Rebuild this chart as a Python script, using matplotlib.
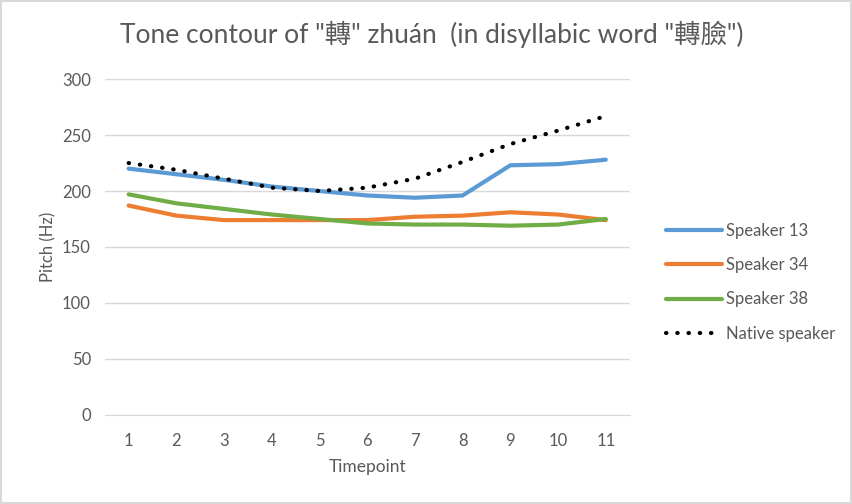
import matplotlib.pyplot as plt

# Data
timepoints = [1, 2, 3, 4, 5, 6, 7, 8, 9, 10, 11]
speaker13 = [220, 215, 210, 204, 200, 196, 194, 196, 223, 224, 228]
speaker34 = [187, 178, 174, 174, 174, 174, 177, 178, 181, 179, 174]
speaker38 = [197, 189, 184, 179, 175, 171, 170, 170, 169, 170, 175]
native = [225, 219, 211, 203, 200, 203, 211, 226, 242, 254, 267]

plt.rcParams['font.family'] = ['Lato', 'Noto Sans CJK TC', 'DejaVu Sans']
grey = "#595959"

fig = plt.figure(figsize=(8.52, 5.04), dpi=100)
ax = fig.add_axes([0.123, 0.177, 0.616, 0.666])

ax.plot(timepoints, speaker13, color="#5b9bd5", lw=3, label="Speaker 13", solid_capstyle="round")
ax.plot(timepoints, speaker34, color="#ed7d31", lw=3, label="Speaker 34", solid_capstyle="round")
ax.plot(timepoints, speaker38, color="#70ad47", lw=3, label="Speaker 38", solid_capstyle="round")
ax.plot(timepoints, native, color="black", lw=3, ls=(0, (0.1, 2.6)), dash_capstyle="round",
        label="Native speaker")

ax.set_xlim(0.5, 11.5)
ax.set_ylim(0, 300)
ax.set_xticks(timepoints)
ax.set_yticks(range(0, 301, 50))
ax.grid(axis="y", color="#d9d9d9", lw=1)
ax.set_axisbelow(True)
for s in ["top", "right", "left"]:
    ax.spines[s].set_visible(False)
ax.spines["bottom"].set_color("#d9d9d9")
ax.tick_params(length=0, labelsize=12, labelcolor=grey, pad=13)
ax.tick_params(axis="y", pad=10)

ax.set_xlabel("Timepoint", fontsize=12.5, color=grey, labelpad=7)
ax.set_ylabel("Pitch (Hz)", fontsize=12, color=grey, labelpad=4)

fig.suptitle('Tone contour of "轉" zhuán  (in disyllabic word "轉臉")', fontsize=19,
             color=grey, y=0.958, x=0.507)

leg = ax.legend(loc="center left", bbox_to_anchor=(1.04, 0.395), frameon=False,
                fontsize=12, handlelength=3.4, labelspacing=1.1, handletextpad=0.25)
for t in leg.get_texts():
    t.set_color(grey)

fig.patches.append(plt.Rectangle((0.001, 0.001), 0.998, 0.997, transform=fig.transFigure,
                                 fill=False, edgecolor="#d9d9d9", lw=1.5))

fig.savefig("out.png", dpi=100)
